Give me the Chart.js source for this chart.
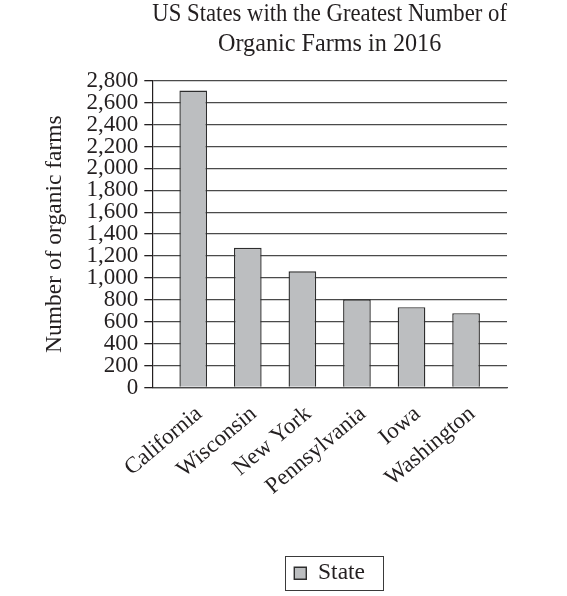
<!DOCTYPE html>
<html>
<head>
<meta charset="utf-8">
<script src="https://cdn.jsdelivr.net/npm/chart.js@4.4.0/dist/chart.umd.min.js"></script>
<style>
  html, body { margin: 0; padding: 0; background: #ffffff; }
  #wrap { width: 567px; height: 596px; position: relative; }
</style>
</head>
<body>
<div id="wrap"><canvas id="c"></canvas></div>
<script>
// ---- data ----
const titleLines = ['US States with the Greatest Number of', 'Organic Farms in 2016'];
const states = ['California', 'Wisconsin', 'New York', 'Pennsylvania', 'Iowa', 'Washington'];
const farms = [2710, 1275, 1060, 805, 733, 678];
const seriesName = 'State';
const yAxisTitle = 'Number of organic farms';
const yMin = 0;
const yMax = 2800;
const yStep = 200;

// ---- styles ----
const FONT = "'Liberation Serif', 'DejaVu Serif', serif";
const INK = '#231f20';
const GRID = '#4a4a4a';
const BAR_FILL = '#bcbec0';

const legendBorder = {
  id: 'legendBorder',
  afterDraw(chart) {
    const lg = chart.legend;
    if (!lg || !lg.legendHitBoxes || !lg.legendHitBoxes.length) return;
    const h = lg.legendHitBoxes[0];
    const ctx = chart.ctx;
    const cy = h.top + h.height / 2;
    ctx.save();
    ctx.strokeStyle = '#3a3a3a';
    ctx.lineWidth = 1;
    ctx.strokeRect(Math.round(h.left - 9) + 0.5, Math.round(cy - 17) + 0.5,
                   Math.round(h.width + 27), 34);
    ctx.restore();
  }
};

new Chart(document.getElementById('c'), {
  type: 'bar',
  data: {
    datasets: [{
      label: seriesName,
      data: states.map((s, i) => ({ x: i, y: farms[i] })),
      backgroundColor: BAR_FILL,
      borderColor: '#2e2e2e',
      borderWidth: 1.4,
      categoryPercentage: 1,
      barPercentage: 0.507
    }]
  },
  options: {
    responsive: true,
    maintainAspectRatio: false,
    animation: false,
    devicePixelRatio: 1,
    layout: { padding: { left: 38, right: 60, top: 0, bottom: 1 } },
    plugins: {
      tooltip: { enabled: false },
      title: {
        display: true,
        text: titleLines,
        fullSize: false,
        color: INK,
        font: { family: FONT, size: 24.2, weight: 'normal', lineHeight: 1.24 },
        padding: { top: 0, bottom: 20.7 }
      },
      legend: {
        display: true,
        position: 'bottom',
        fullSize: false,
        labels: {
          color: INK,
          boxWidth: 12,
          boxHeight: 12,
          padding: 10,
          font: { family: FONT, size: 23.5 }
        }
      }
    },
    scales: {
      x: {
        type: 'linear',
        min: -0.75,
        max: 5.75,
        offset: false,
        afterBuildTicks(scale) {
          scale.ticks = scale.ticks.filter(t => Number.isInteger(t.value) && t.value >= 0 && t.value < states.length);
        },
        afterFit(scale) { scale.height = 164; },
        grid: { display: false },
        border: { display: true, color: GRID, width: 1.3 },
        ticks: {
          stepSize: 1,
          autoSkip: false,
          minRotation: 40,
          maxRotation: 40,
          padding: 5,
          labelOffset: 6,
          color: INK,
          font: { family: FONT, size: 23 },
          callback: (v) => (Number.isInteger(v) && states[v] !== undefined) ? states[v] : ''
        }
      },
      y: {
        min: yMin,
        max: yMax,
        afterFit(scale) { scale.width = 114.3; },
        grid: { display: true, color: GRID, lineWidth: 1.3, drawTicks: true, tickLength: 8, tickColor: INK },
        border: { display: true, color: INK, width: 1.2 },
        ticks: {
          stepSize: yStep,
          autoSkip: false,
          padding: 6,
          color: INK,
          font: { family: FONT, size: 23, lineHeight: 0.9 },
          callback: (v) => Number(v).toLocaleString('en-US')
        },
        title: {
          display: true,
          text: yAxisTitle,
          color: INK,
          font: { family: FONT, size: 23.5 },
          padding: { top: 3, bottom: 4 }
        }
      }
    }
  },
  plugins: [legendBorder]
});
</script>
</body>
</html>
